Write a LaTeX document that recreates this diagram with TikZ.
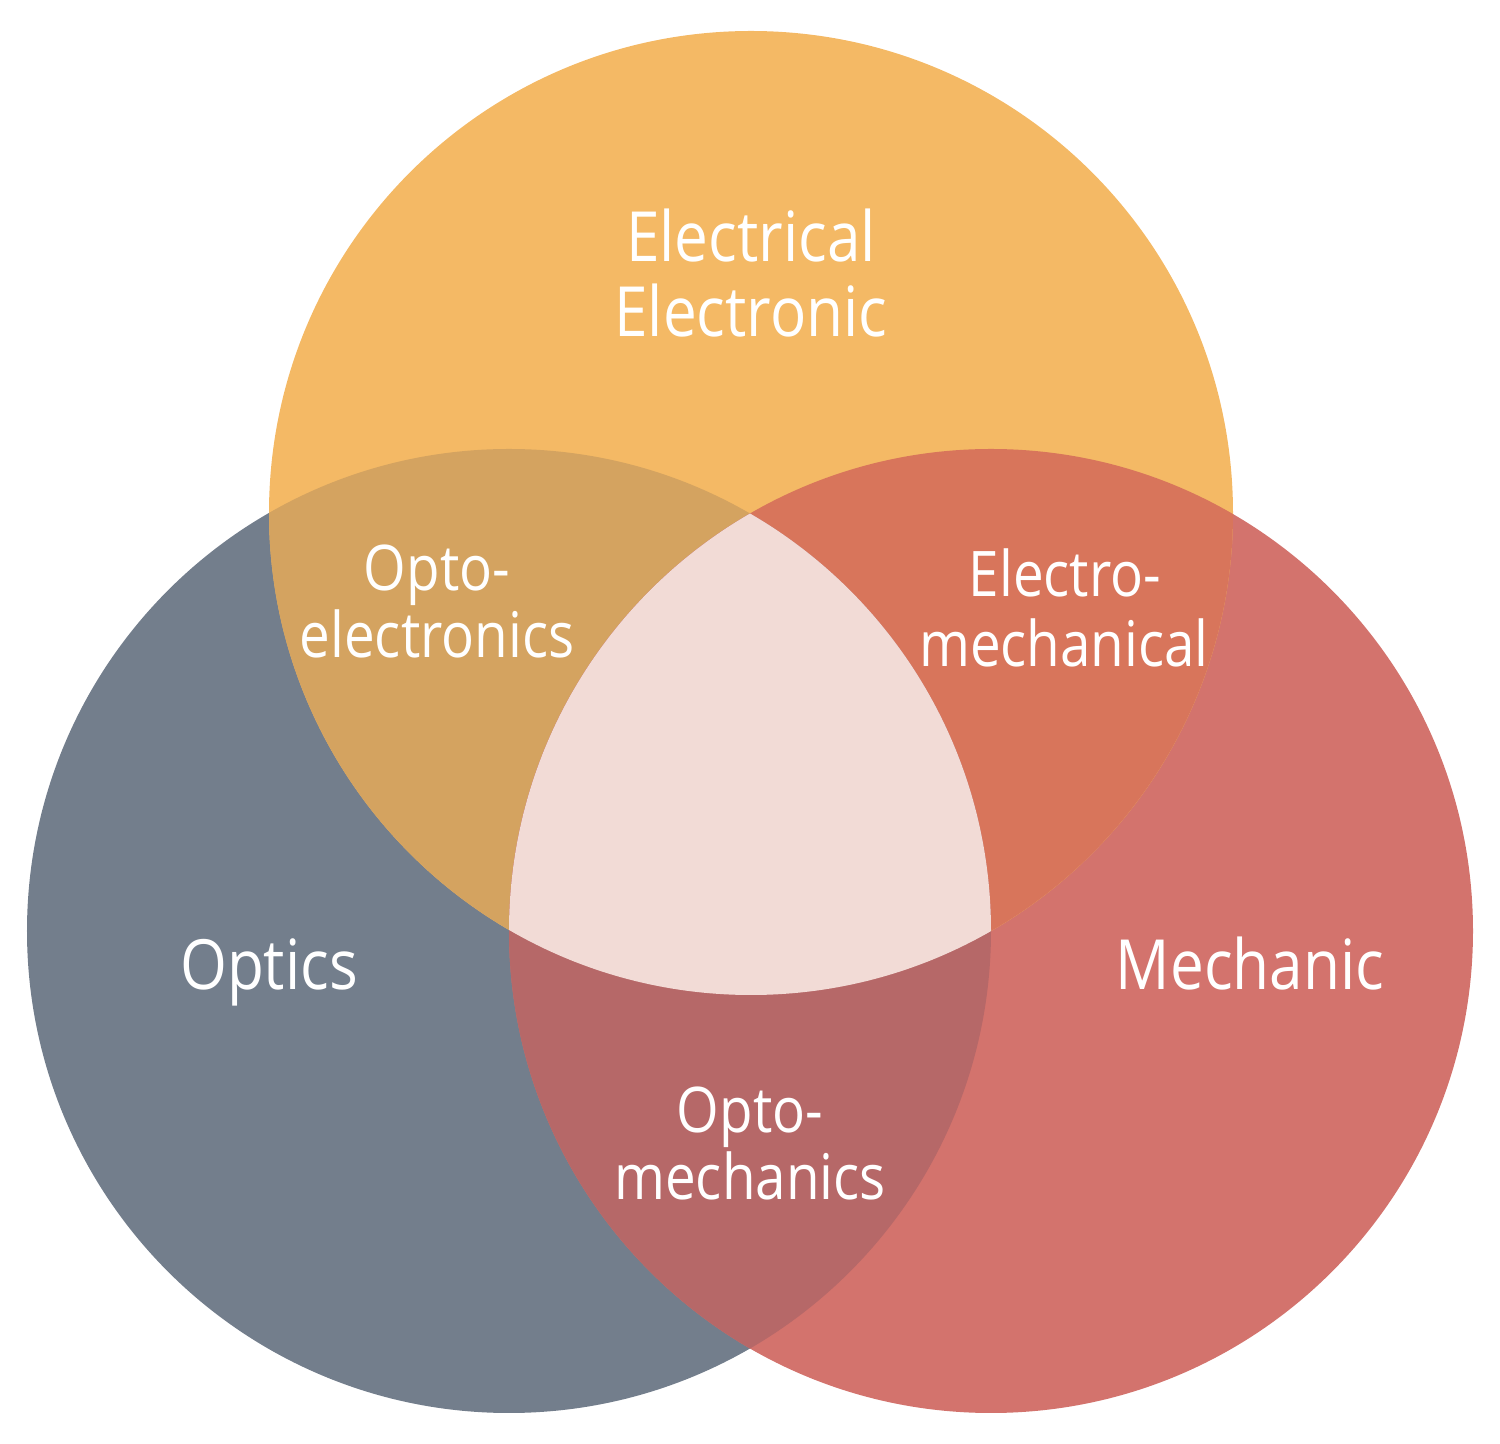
\documentclass[tikz,border=0pt]{standalone}
\usepackage{fontspec}
\setmainfont{Open Sans}[FakeStretch=0.87]
\definecolor{cTop}{HTML}{F4B965}
\definecolor{cLeft}{HTML}{737E8C}
\definecolor{cRight}{HTML}{D3736D}
\definecolor{cTL}{HTML}{D4A360}
\definecolor{cTR}{HTML}{D8755B}
\definecolor{cLR}{HTML}{B66868}
\definecolor{cAll}{HTML}{F2DBD6}
\tikzset{
  bigtxt/.style={text=white, anchor=base, inner sep=0pt, font=\fontsize{19.7pt}{22pt}\selectfont},
  smalltxt/.style={text=white, anchor=base, inner sep=0pt, font=\fontsize{17.9pt}{20pt}\selectfont}
}
\begin{document}
\begin{tikzpicture}
\useasboundingbox (0,0) rectangle (15,-14.44);
\def\R{4.82}
\coordinate (ct) at (7.51,-5.13);
\coordinate (cl) at (5.09,-9.31);
\coordinate (cr) at (9.91,-9.31);
% circles
\fill[cLeft] (cl) circle (\R);
\fill[cRight] (cr) circle (\R);
\fill[cTop] (ct) circle (\R);
% pairwise overlaps
\begin{scope}
  \clip (ct) circle (\R);
  \fill[cTL] (cl) circle (\R);
\end{scope}
\begin{scope}
  \clip (ct) circle (\R);
  \fill[cTR] (cr) circle (\R);
\end{scope}
\begin{scope}
  \clip (cl) circle (\R);
  \fill[cLR] (cr) circle (\R);
\end{scope}
\begin{scope}
  \clip (ct) circle (\R);
  \clip (cl) circle (\R);
  \fill[cAll] (cr) circle (\R);
\end{scope}
% labels
\node[bigtxt] (el1) at (7.51,-2.62) {Electrical};
\node[bigtxt] (el2) at (7.51,-3.37) {Electronic};
\node[bigtxt] (opt) at (2.69,-9.90) {Optics};
\node[bigtxt] (mec) at (12.50,-9.90) {Mechanic};
\node[smalltxt] (oe1) at (4.37,-5.91) {Opto-};
\node[smalltxt] (oe2) at (4.37,-6.58) {electronics};
\node[smalltxt] (em1) at (10.65,-5.97) {Electro-};
\node[smalltxt] (em2) at (10.64,-6.67) {mechanical};
\node[smalltxt] (om1) at (7.50,-11.33) {Opto-};
\node[smalltxt] (om2) at (7.50,-12.00) {mechanics};
\end{tikzpicture}
\end{document}
